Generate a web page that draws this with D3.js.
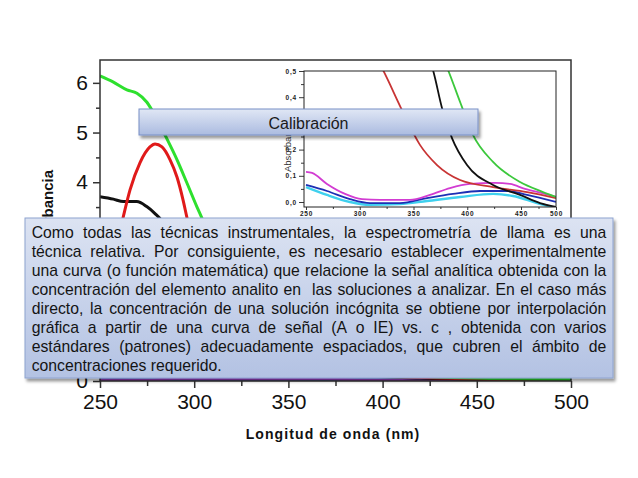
<!DOCTYPE html>
<html><head><meta charset="utf-8">
<script src="https://cdn.jsdelivr.net/npm/d3@7"></script>
<style>html,body{margin:0;padding:0;background:#fff;overflow:hidden}</style>
</head><body>
<svg id="c" width="638" height="478" xmlns="http://www.w3.org/2000/svg"></svg>
<script>
// ---------- main chart ----------
const mainXTicks = [250, 300, 350, 400, 450, 500];
const mainXMinor = [275, 325, 375, 425, 475];
const mainYTicks = [0, 1, 2, 3, 4, 5, 6];
const mainYMinor = [0.5, 1.5, 2.5, 3.5, 4.5, 5.5];
const mainGreen = [[250,6.14],[256.9,6.02],[264.3,5.86],[269.6,5.79],[274.9,5.61],[279.5,5.32],[284.5,4.95],[290.9,4.45],[296.2,3.98],[301.5,3.50],[304.1,3.28],[315,2.3],[330,1.3],[350,0.6],[380,0.25],[420,0.1],[460,0.05],[500,0.03]];
const mainRed = [[250,1.3],[254,1.9],[258,2.6],[262.2,3.28],[265.9,3.84],[271.2,4.39],[276.5,4.71],[279.2,4.77],[282.9,4.71],[287.2,4.45],[290.9,4.10],[294.1,3.64],[296.2,3.28],[300,2.7],[306,1.9],[315,1.0],[330,0.45],[360,0.2],[400,0.1],[450,0.04],[500,0.02]];
const mainBlack = [[250,3.71],[257.1,3.66],[262.4,3.61],[269.5,3.61],[274.8,3.51],[279.2,3.37],[281.8,3.27],[290,2.6],[300,1.8],[315,0.9],[335,0.4],[370,0.15],[420,0.06],[500,0.01]];
const mainCyan = [[250,0.03],[300,0.02],[350,0.02],[400,0.03],[450,0.02],[500,0.01]];
const mainBlue = [[250,0.035],[300,0.015],[350,0.015],[400,0.025],[450,0.02],[500,0.01]];
const mainMagenta = [[250,0.02],[275,0.02],[290,0.045],[330,0.04],[370,0.045],[390,0.02],[500,0.01]];

// ---------- inset chart ----------
const insetXTicks = [250, 300, 350, 400, 450, 500];
const insetXMinor = [275, 325, 375, 425, 475];
const insetYTicks = [0, 0.1, 0.2, 0.3, 0.4, 0.5];
const insetYMinor = [0.05, 0.15, 0.25, 0.35, 0.45];
const insetRed = [[311.4,0.58],[321.6,0.504],[339.3,0.351],[356.0,0.218],[371.9,0.141],[393.3,0.084],[424.0,0.057],[458.6,0.038],[500,0.015]];
const insetBlack = [[365.3,0.54],[368.1,0.504],[376.5,0.359],[385.8,0.244],[399.8,0.141],[424.0,0.065],[449.1,0.027],[477.1,-0.004],[500,-0.019]];
const insetGreen = [[378.4,0.54],[382.1,0.504],[393.3,0.382],[405.3,0.256],[424.0,0.153],[449.1,0.076],[481.4,0.038],[500,0.019]];
const insetMagenta = [[250,0.115],[255.6,0.111],[269.5,0.069],[286.3,0.031],[302.1,0.011],[318.8,0.008],[346.7,0.008],[365.3,0.027],[383.9,0.053],[402.6,0.069],[425.8,0.073],[439.8,0.069],[455.7,0.050],[484.3,0.031],[500,0.019]];
const insetBlue = [[250,0.065],[269.5,0.042],[290.9,0.011],[309.5,-0.004],[337.4,-0.004],[362.6,0.015],[386.7,0.031],[411.9,0.042],[437.0,0.042],[458.6,0.027],[500,0.0]];
const insetCyan = [[250,0.057],[269.5,0.027],[290.9,0.0],[309.5,-0.011],[337.4,-0.008],[362.6,0.004],[393.3,0.019],[424.0,0.031],[442.6,0.023],[472.9,-0.004],[500,-0.023]];

// ---------- texts ----------
const titleText = "Calibración";
const mainXTitle = "Longitud de onda (nm)";
const mainYTitle = "Absorbancia";
const insetYTitle = "Absorbance";
const bodyLines = [
 "Como todas las técnicas instrumentales, la espectrometría de llama es una",
 "técnica relativa. Por consiguiente, es necesario establecer experimentalmente",
 "una curva (o función matemática) que relacione la señal analítica obtenida con la",
 "concentración del elemento analito en  las soluciones a analizar. En el caso más",
 "directo, la concentración de una solución incógnita se obtiene por interpolación",
 "gráfica a partir de una curva de señal (A o IE) vs. c , obtenida con varios",
 "estándares (patrones) adecuadamente espaciados, que cubren el ámbito de",
 "concentraciones requerido."
];

const svg = d3.select("#c");
const FONT = "'Liberation Sans', Arial, Helvetica, sans-serif";
svg.append("rect").attr("width",638).attr("height",478).attr("fill","#fff");

const defs = svg.append("defs");
const g1 = defs.append("linearGradient").attr("id","gBody").attr("x1",0).attr("y1",0).attr("x2",0).attr("y2",1);
g1.append("stop").attr("offset",0).attr("stop-color","#dce3f2");
g1.append("stop").attr("offset",1).attr("stop-color","#b3c2e3");
const g2 = defs.append("linearGradient").attr("id","gTitle").attr("x1",0).attr("y1",0).attr("x2",0).attr("y2",1);
g2.append("stop").attr("offset",0).attr("stop-color","#e0e7f5");
g2.append("stop").attr("offset",1).attr("stop-color","#abbbe0");
const f = defs.append("filter").attr("id","sh").attr("x","-5%").attr("y","-5%").attr("width","115%").attr("height","125%");
f.append("feDropShadow").attr("dx",2).attr("dy",3).attr("stdDeviation",1.8).attr("flood-color","#000").attr("flood-opacity",0.4);

// ===== main chart =====
const mx = d3.scaleLinear().domain([250,500]).range([100,571]);
const my = d3.scaleLinear().domain([0,6.46]).range([381,60]);
defs.append("clipPath").attr("id","clipMain").append("rect")
  .attr("x",mx(250)).attr("y",my(6.46)).attr("width",mx(500)-mx(250)).attr("height",my(0)-my(6.46));

const main = svg.append("g");
const mline = d3.line().x(d=>mx(d[0])).y(d=>my(d[1])).curve(d3.curveMonotoneX);
const mc = main.append("g").attr("clip-path","url(#clipMain)");
[[mainCyan,"#2fc6e6"],[mainBlue,"#1b6fb0"],[mainMagenta,"#a040c8"],[mainBlack,"#111"],[mainRed,"#e01a1a"],[mainGreen,"#2ee02e"]]
 .forEach(([d,c])=>mc.append("path").datum(d).attr("d",mline).attr("fill","none").attr("stroke",c).attr("stroke-width",3).attr("stroke-linejoin","round"));

// frame
main.append("rect").attr("x",mx(250)).attr("y",my(6.46)).attr("width",mx(500)-mx(250)).attr("height",my(0)-my(6.46))
  .attr("fill","none").attr("stroke","#333").attr("stroke-width",1.5);

const xAx = main.append("g").attr("transform",`translate(0,${my(0)})`)
  .call(d3.axisBottom(mx).tickValues(mainXTicks).tickSize(7).tickPadding(6).tickFormat(d3.format("d")));
const xAxMin = main.append("g").attr("transform",`translate(0,${my(0)})`)
  .call(d3.axisBottom(mx).tickValues(mainXMinor).tickSize(5).tickFormat(""));
const yAx = main.append("g").attr("transform",`translate(${mx(250)},0)`)
  .call(d3.axisLeft(my).tickValues(mainYTicks).tickSize(7).tickPadding(5).tickFormat(d3.format("d")));
const yAxMin = main.append("g").attr("transform",`translate(${mx(250)},0)`)
  .call(d3.axisLeft(my).tickValues(mainYMinor).tickSize(4).tickFormat(""));
[xAx,xAxMin,yAx,yAxMin].forEach(a=>{
  a.select(".domain").remove();
  a.selectAll("line").attr("stroke","#333").attr("stroke-width",1.5);
  a.selectAll("text").attr("font-family",FONT).attr("font-size",21).attr("fill","#111");
});

main.append("text").attr("x",333).attr("y",439).attr("text-anchor","middle")
  .attr("font-family",FONT).attr("font-weight","bold").attr("font-size",14).attr("letter-spacing",1.1)
  .attr("fill","#111").text(mainXTitle);
main.append("text").attr("transform","translate(53,170) rotate(-90)").attr("text-anchor","end")
  .attr("font-family",FONT).attr("font-weight","bold").attr("font-size",15).attr("fill","#111").text(mainYTitle);

// ===== inset =====
const ix = d3.scaleLinear().domain([250,450,500]).range([306,521,556]);
const iy = d3.scaleLinear().domain([0,0.5]).range([202,71]);
const inset = svg.append("g");
const iTop = 71, iBot = 207, iLeft = 304, iRight = 556;
defs.append("clipPath").attr("id","clipInset").append("rect")
  .attr("x",iLeft).attr("y",iTop).attr("width",iRight-iLeft).attr("height",iBot-iTop);
inset.append("rect").attr("x",iLeft).attr("y",iTop).attr("width",iRight-iLeft).attr("height",iBot-iTop).attr("fill","#fff");
const iline = d3.line().x(d=>ix(d[0])).y(d=>iy(d[1])).curve(d3.curveMonotoneX);
const ic = inset.append("g").attr("clip-path","url(#clipInset)");
[[insetCyan,"#3fd0ee",2.4],[insetBlue,"#1c2fb4",1.8],[insetMagenta,"#d23cd2",1.8],[insetRed,"#c83434",1.8],[insetBlack,"#111",1.8],[insetGreen,"#3cc83c",1.8]]
 .forEach(([d,c,w])=>ic.append("path").datum(d).attr("d",iline).attr("fill","none").attr("stroke",c).attr("stroke-width",w));
inset.append("rect").attr("x",iLeft).attr("y",iTop).attr("width",iRight-iLeft).attr("height",iBot-iTop)
  .attr("fill","none").attr("stroke","#222").attr("stroke-width",1);

const ixA = inset.append("g").attr("transform",`translate(0,${iBot})`)
  .call(d3.axisBottom(ix).tickValues(insetXTicks).tickSize(3).tickPadding(1).tickFormat(d3.format("d")));
const ixM = inset.append("g").attr("transform",`translate(0,${iBot})`)
  .call(d3.axisBottom(ix).tickValues(insetXMinor).tickSize(2).tickFormat(""));
const iyA = inset.append("g").attr("transform",`translate(${iLeft},0)`)
  .call(d3.axisLeft(iy).tickValues(insetYTicks).tickSize(5).tickPadding(2).tickFormat(d=>d3.format(".1f")(d).replace(".",",")));
const iyM = inset.append("g").attr("transform",`translate(${iLeft},0)`)
  .call(d3.axisLeft(iy).tickValues(insetYMinor).tickSize(3).tickFormat(""));
[ixA,ixM,iyA,iyM].forEach(a=>{
  a.select(".domain").remove();
  a.selectAll("line").attr("stroke","#222").attr("stroke-width",0.9);
  a.selectAll("text").attr("font-family",FONT).attr("font-weight","bold").attr("font-size",6.5).attr("fill","#222").attr("letter-spacing",0.8);
});
inset.append("text").attr("transform","translate(291,172) rotate(-90)").attr("text-anchor","start")
  .attr("font-family",FONT).attr("font-size",9.5).attr("fill","#333").text(insetYTitle);

// ===== Calibración box =====
svg.append("rect").attr("x",139).attr("y",109).attr("width",339).attr("height",26)
  .attr("fill","url(#gTitle)").attr("stroke","#7890c6").attr("stroke-width",1).attr("filter","url(#sh)");
svg.append("text").attr("x",308.5).attr("y",128.5).attr("text-anchor","middle")
  .attr("font-family",FONT).attr("font-size",16).attr("fill","#1a1a1a").text(titleText);

// ===== body text box =====
svg.append("rect").attr("x",25).attr("y",218).attr("width",588).attr("height",160)
  .attr("fill","url(#gBody)").attr("stroke","#8ea3d0").attr("stroke-width",1).attr("filter","url(#sh)");
const left = 31.7, right = 606.3, fs = 15.75, lh = 19, base0 = 237.8;
bodyLines.forEach((ln,i)=>{
  const words = ln.split(" ");
  const t = svg.append("text").attr("y",base0+i*lh).attr("font-family",FONT).attr("font-size",fs).attr("fill","#141414");
  const spans = words.map(w=>t.append("tspan").text(w));
  const widths = spans.map(s=>s.node().getComputedTextLength());
  const sum = d3.sum(widths);
  const last = i===bodyLines.length-1;
  const gap = last ? fs*0.278 : (right-left-sum)/(words.length-1);
  let x = left;
  spans.forEach((s,j)=>{ s.attr("x",x); x += widths[j]+gap; });
});
</script>
</body></html>
